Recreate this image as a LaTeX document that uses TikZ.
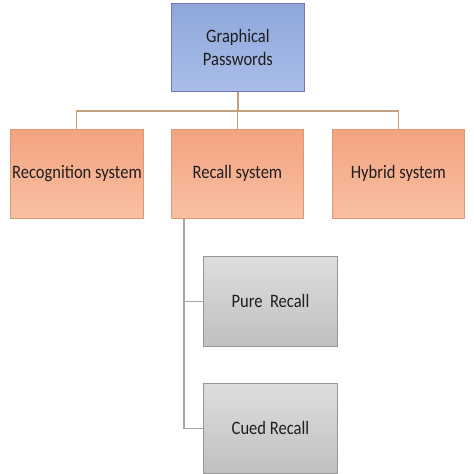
\documentclass[tikz,border=0pt]{standalone}
\usepackage{fontspec}
\setmainfont{Carlito}
\newfontfamily\boxfont[FakeStretch=0.87]{Carlito}
\begin{document}
\begin{tikzpicture}[x=1pt,y=-1pt,
  box/.style={draw, line width=0.8pt, inner sep=0pt, anchor=north west, align=center, text={rgb,255:red,30;green,30;blue,30}, font=\boxfont\fontsize{19}{23}\selectfont},
  topbox/.style={box, draw=blue!35!gray!80, top color={rgb,255:red,142;green,166;blue,218}, bottom color={rgb,255:red,170;green,190;blue,232}},
  orbox/.style={box, draw={rgb,255:red,222;green,150;blue,115}, top color={rgb,255:red,243;green,163;blue,128}, bottom color={rgb,255:red,249;green,192;blue,163}},
  grbox/.style={box, draw={rgb,255:red,150;green,150;blue,150}, top color={rgb,255:red,222;green,222;blue,222}, bottom color={rgb,255:red,192;green,192;blue,192}},
  conn/.style={line width=1.2pt, draw={rgb,255:red,196;green,160;blue,128}},
  gconn/.style={line width=1.2pt, draw={rgb,255:red,165;green,165;blue,165}}]
\useasboundingbox (0,0) rectangle (474,474);
\node[topbox, minimum width=133pt, minimum height=88pt] (gp) at (171,3) {Graphical\\Passwords};
\node[orbox, minimum width=133pt, minimum height=89pt] (rec) at (10,129) {Recognition system};
\node[orbox, minimum width=132pt, minimum height=89pt] (rcl) at (171,129) {Recall system};
\node[orbox, minimum width=132pt, minimum height=89pt] (hyb) at (332,129) {Hybrid system};
\node[grbox, minimum width=134pt, minimum height=90pt] (pure) at (203,256) {Pure\ \ Recall};
\node[grbox, minimum width=134pt, minimum height=90pt] (cued) at (203,383) {Cued Recall};
\coordinate (hb) at (0,111);
\coordinate (vx) at (184,0);
\draw[conn] (gp.south) -- (gp.south |- hb);
\draw[conn] (rec.north) ++(-0.5,0) |- (hyb.north |- hb) -- (hyb.north);
\draw[conn] (rcl.north) -- (rcl.north |- hb);
\draw[gconn] (vx |- rcl.south) |- (cued.west);
\draw[gconn] (vx |- pure.west) -- (pure.west);
\end{tikzpicture}
\end{document}
